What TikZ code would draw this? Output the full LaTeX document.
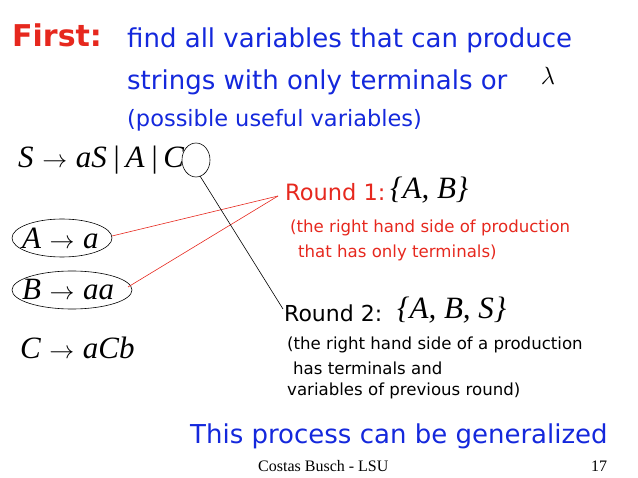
\documentclass[tikz,border=0pt]{standalone}
\usepackage{fontspec}
\setmainfont{Liberation Serif}
\newfontfamily\comic{DejaVu Sans}
\definecolor{redt}{RGB}{230,40,30}
\definecolor{bluet}{RGB}{20,40,220}
\begin{document}
\begin{tikzpicture}[x=1pt,y=-1pt,
  txt/.style={anchor=west,inner sep=0pt,font=\comic\fontsize{26}{28}\selectfont},
  sm/.style={anchor=west,inner sep=0pt,font=\comic\fontsize{16.6}{18}\selectfont},
  gram/.style={anchor=west,inner sep=0pt,font=\fontsize{31}{33}\selectfont\itshape},
  setx/.style={anchor=west,inner sep=0pt,font=\fontsize{31}{33}\selectfont\itshape}]
\useasboundingbox (0,0) rectangle (638,478);
\node[txt,text=redt,font=\comic\bfseries\fontsize{30}{32}\selectfont] (first) at (12,35) {First:};
\node[txt,text=bluet] (l1) at (127,40) {find all variables that can produce};
\node[txt,text=bluet] (l2) at (127,82) {strings with only terminals or};
\node[inner sep=0pt,font=\fontsize{50}{52}\selectfont\itshape] (lam) at (548,76) {$\lambda$};
\node[txt,text=bluet,font=\comic\fontsize{22.5}{24}\selectfont] (l3) at (127,120) {(possible useful variables)};
\node[gram] (g1) at (18,160) {S\;$\rightarrow$\;aS\,|\,A\,|\,C};
\node[gram] (g2) at (22,238) {A\;$\rightarrow$\;a};
\node[gram] (g3) at (22,290) {B\;$\rightarrow$\;aa};
\node[gram] (g4) at (20,348) {C\;$\rightarrow$\;aCb};
\draw[line width=0.6pt] (196,160) ellipse [x radius=14, y radius=17];
\coordinate (eA) at (200,176);
\draw[line width=0.6pt] (62,238) ellipse [x radius=50, y radius=19];
\draw[line width=0.6pt] (72,290) ellipse [x radius=60, y radius=19];
\coordinate (r1) at (278,196);
\coordinate (r2) at (283,309);
\draw[redt,line width=0.6pt] (112,236) -- (r1);
\draw[redt,line width=0.6pt] (128,287) -- (r1);
\draw[line width=0.6pt] (eA) -- (r2);
\node[txt,text=redt,font=\comic\fontsize{22.5}{24}\selectfont] (R1) at (285,192) {Round 1:};
\node[setx] (s1) at (390,190) {\{A, B\}};
\node[sm,text=redt] (d1) at (290,228) {(the right hand side of production};
\node[sm,text=redt] (d2) at (298,253) {that has only terminals)};
\node[txt,font=\comic\fontsize{22}{24}\selectfont] (R2) at (284,313) {Round 2:};
\node[setx] (s2) at (397,310) {\{A, B, S\}};
\node[sm] (e1) at (287,345) {(the right hand side of a production};
\node[sm] (e2) at (293,368) {has terminals and};
\node[sm] (e3) at (287,391) {variables of previous round)};
\node[txt,text=bluet,font=\comic\fontsize{26}{28}\selectfont] (gen) at (190,436) {This process can be generalized};
\node[anchor=west,inner sep=0pt,font=\fontsize{16}{18}\selectfont] (foot) at (258,466) {Costas Busch - LSU};
\node[anchor=west,inner sep=0pt,font=\fontsize{16}{18}\selectfont] (num) at (591,466) {17};
\end{tikzpicture}
\end{document}
